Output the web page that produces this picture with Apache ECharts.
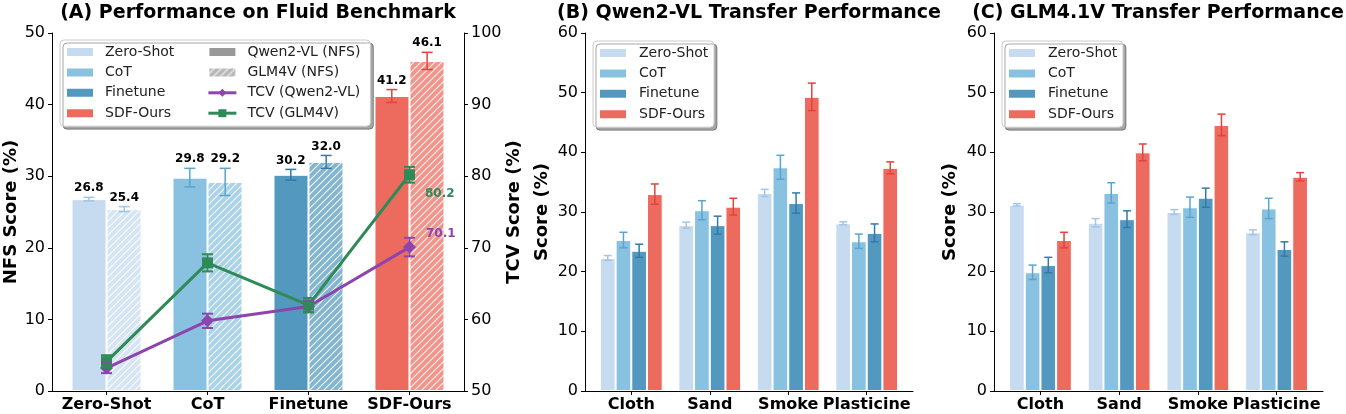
<!DOCTYPE html>
<html>
<head>
<meta charset="utf-8">
<script src="https://cdn.jsdelivr.net/npm/echarts@6/dist/echarts.min.js"></script>
<style>
  html, body { margin: 0; padding: 0; background: #fff; }
  #chart { width: 1346px; height: 414px; }
</style>
</head>
<body>
<div id="chart"></div>
<script>
// ---- data ----
const methods = ['Zero-Shot', 'CoT', 'Finetune', 'SDF-Ours'];
const materials = ['Cloth', 'Sand', 'Smoke', 'Plasticine'];

// panel A: NFS bars (left axis) and TCV lines (right axis)
const nfsQwen = [26.8, 29.8, 30.2, 41.2];
const nfsQwenErr = [0.25, 1.3, 0.75, 0.9];
const nfsGlm = [25.4, 29.2, 32.0, 46.1];
const nfsGlmErr = [0.35, 1.9, 0.9, 1.2];
const tcvQwen = [53.2, 59.8, 61.8, 70.1];
const tcvQwenErr = [0.7, 1.0, 0.8, 1.3];
const tcvGlm = [54.1, 67.9, 62.0, 80.2];
const tcvGlmErr = [0.9, 1.2, 1.0, 1.1];

// panel B: Qwen2-VL transfer, rows = methods, cols = materials
const qwenScores = [
  [22.3, 27.8, 33.2, 28.1],
  [25.3, 30.3, 37.5, 25.1],
  [23.5, 27.8, 31.5, 26.5],
  [33.0, 30.9, 49.3, 37.4]
];
const qwenErrors = [
  [0.4, 0.5, 0.6, 0.25],
  [1.3, 1.6, 2.0, 1.2],
  [1.1, 1.5, 1.7, 1.5],
  [1.7, 1.4, 2.3, 1.0]
];

// panel C: GLM4.1V transfer
const glmScores = [
  [31.2, 28.2, 30.0, 26.6],
  [19.9, 33.2, 30.8, 30.6],
  [21.1, 28.8, 32.4, 23.8],
  [25.3, 40.0, 44.6, 35.9]
];
const glmErrors = [
  [0.2, 0.7, 0.4, 0.4],
  [1.2, 1.7, 1.7, 1.7],
  [1.3, 1.4, 1.6, 1.2],
  [1.3, 1.4, 1.8, 0.7]
];

// ---- styling ----
const FONT = 'DejaVu Sans';
const barColors = ['#c6dbef', '#89c2e0', '#5399bf', '#ec6b5e'];
const errColors = ['#a3c5e6', '#5aa4d0', '#2f7cab', '#e0443a'];
const PURPLE = '#8e44ad';
const GREEN = '#2e8b57';

// diagonal '///' hatch as a canvas pattern
function hatch(base, alpha) {
  const s = 7;
  const c = document.createElement('canvas');
  c.width = s; c.height = s;
  const ctx = c.getContext('2d');
  ctx.globalAlpha = alpha;
  ctx.fillStyle = base;
  ctx.fillRect(0, 0, s, s);
  ctx.globalAlpha = 1;
  ctx.strokeStyle = 'rgba(255,255,255,0.9)';
  ctx.lineWidth = 1.1;
  ctx.beginPath();
  ctx.moveTo(0, s); ctx.lineTo(s, 0);
  ctx.moveTo(-s, s); ctx.lineTo(s, -s);
  ctx.moveTo(0, 2 * s); ctx.lineTo(2 * s, 0);
  ctx.stroke();
  return { image: c, repeat: 'repeat' };
}

// error bars (and optional value label) drawn with a custom series
function errorBar(offset, colors, capWidth, lineWidth, withLabel) {
  return function (params, api) {
    const x = api.value(0) + offset;
    const v = api.value(1);
    const e = api.value(2);
    const hi = api.coord([x, v + e]);
    const lo = api.coord([x, v - e]);
    const col = Array.isArray(colors) ? colors[params.dataIndex] : colors;
    const h = capWidth / 2;
    const st = () => ({ stroke: col, lineWidth: lineWidth });
    const children = [
      { type: 'line', shape: { x1: hi[0], y1: hi[1], x2: lo[0], y2: lo[1] }, style: st() },
      { type: 'line', shape: { x1: hi[0] - h, y1: hi[1], x2: hi[0] + h, y2: hi[1] }, style: st() },
      { type: 'line', shape: { x1: lo[0] - h, y1: lo[1], x2: lo[0] + h, y2: lo[1] }, style: st() }
    ];
    if (withLabel) {
      children.push({
        type: 'text', x: hi[0], y: hi[1] - 3,
        style: { text: v.toFixed(1), align: 'center', verticalAlign: 'bottom',
                 font: 'bold 12px "DejaVu Sans"', fill: '#000' }
      });
    }
    return { type: 'group', children: children };
  };
}

const axisLineStyle = { show: true, onZero: false, lineStyle: { color: '#000', width: 1 } };
const tickStyle = { show: true, length: 4, lineStyle: { color: '#000', width: 1 } };

function xAxisFor(gridIndex, cats, min, max) {
  return {
    type: 'value', gridIndex: gridIndex, min: min, max: max,
    axisLine: axisLineStyle,
    axisTick: Object.assign({ customValues: [0, 1, 2, 3] }, tickStyle),
    axisLabel: {
      customValues: [0, 1, 2, 3],
      formatter: v => cats[Math.round(v)],
      color: '#000', fontFamily: FONT, fontSize: 16, fontWeight: 'bold', margin: 6
    },
    splitLine: { show: false }
  };
}

function yAxisFor(gridIndex, min, max, name, nameGap, position) {
  return {
    type: 'value', gridIndex: gridIndex, min: min, max: max, interval: 10,
    position: position || 'left',
    axisLine: axisLineStyle,
    axisTick: tickStyle,
    axisLabel: { color: '#000', fontFamily: FONT, fontSize: 16, margin: 7 },
    splitLine: { show: false },
    name: name, nameLocation: 'middle', nameGap: nameGap, nameRotate: 90,
    nameTextStyle: { color: '#000', fontFamily: FONT, fontSize: 18, fontWeight: 'bold' }
  };
}

const series = [];

// panel A bars
series.push({
  type: 'bar', name: 'Qwen2-VL (NFS)', xAxisIndex: 0, yAxisIndex: 0,
  barWidth: 35, barGap: '0%',
  itemStyle: { color: '#999999', borderColor: '#fff', borderWidth: 1 },
  data: nfsQwen.map((v, i) => ({ value: [i, v], itemStyle: { color: barColors[i] } }))
});
series.push({
  type: 'bar', name: 'GLM4V (NFS)', xAxisIndex: 0, yAxisIndex: 0,
  barWidth: 35, barGap: '0%',
  itemStyle: { color: hatch('#999999', 0.7), borderColor: '#fff', borderWidth: 1 },
  data: nfsGlm.map((v, i) => ({ value: [i, v], itemStyle: { color: hatch(barColors[i], 0.72) } }))
});
series.push({
  type: 'custom', name: 'errA1', xAxisIndex: 0, yAxisIndex: 0, z: 3,
  renderItem: errorBar(-0.175, errColors, 11, 1.5, true),
  data: nfsQwen.map((v, i) => [i, v, nfsQwenErr[i]])
});
series.push({
  type: 'custom', name: 'errA2', xAxisIndex: 0, yAxisIndex: 0, z: 3,
  renderItem: errorBar(0.175, errColors, 11, 1.5, true),
  data: nfsGlm.map((v, i) => [i, v, nfsGlmErr[i]])
});

// panel A lines
function endLabel(color, dy) {
  return {
    show: true, position: 'right', distance: 10, offset: [0, dy],
    formatter: p => p.value[1].toFixed(1),
    color: color, fontFamily: FONT, fontSize: 12, fontWeight: 'bold'
  };
}
series.push({
  type: 'line', name: 'TCV (Qwen2-VL)', xAxisIndex: 0, yAxisIndex: 1, z: 4,
  symbol: 'diamond', symbolSize: 13,
  itemStyle: { color: PURPLE }, lineStyle: { color: PURPLE, width: 3 },
  data: tcvQwen.map((v, i) => i === 3 ? { value: [i, v], label: endLabel(PURPLE, -13) } : [i, v])
});
series.push({
  type: 'line', name: 'TCV (GLM4V)', xAxisIndex: 0, yAxisIndex: 1, z: 4,
  symbol: 'rect', symbolSize: 11,
  itemStyle: { color: GREEN }, lineStyle: { color: GREEN, width: 3 },
  data: tcvGlm.map((v, i) => i === 3 ? { value: [i, v], label: endLabel(GREEN, 19) } : [i, v])
});
series.push({
  type: 'custom', name: 'errL1', xAxisIndex: 0, yAxisIndex: 1, z: 5,
  renderItem: errorBar(0, PURPLE, 11, 2, false),
  data: tcvQwen.map((v, i) => [i, v, tcvQwenErr[i]])
});
series.push({
  type: 'custom', name: 'errL2', xAxisIndex: 0, yAxisIndex: 1, z: 5,
  renderItem: errorBar(0, GREEN, 11, 2, false),
  data: tcvGlm.map((v, i) => [i, v, tcvGlmErr[i]])
});

// panels B and C
const offsets = [-0.3, -0.1, 0.1, 0.3];
[[qwenScores, qwenErrors, 1, 2], [glmScores, glmErrors, 2, 3]].forEach(([scores, errs, xi, yi]) => {
  methods.forEach((m, k) => {
    series.push({
      type: 'bar', name: m, xAxisIndex: xi, yAxisIndex: yi,
      barWidth: 15.7, barGap: '0%',
      itemStyle: { color: barColors[k], borderColor: '#fff', borderWidth: 1 },
      data: scores[k].map((v, i) => [i, v])
    });
  });
  methods.forEach((m, k) => {
    series.push({
      type: 'custom', name: 'err' + xi + k, xAxisIndex: xi, yAxisIndex: yi, z: 3,
      renderItem: errorBar(offsets[k], errColors[k], 8, 1.5, false),
      data: scores[k].map((v, i) => [i, v, errs[k][i]])
    });
  });
});

const legendBase = {
  orient: 'vertical', itemWidth: 28, itemHeight: 10, itemGap: 6.4,
  padding: [5, 5, 6, 5], selectedMode: false,
  backgroundColor: '#ffffff',
  borderColor: '#cccccc', borderWidth: 1, borderRadius: 4,
  shadowColor: 'rgba(0,0,0,0.35)', shadowBlur: 0, shadowOffsetX: 3, shadowOffsetY: 3
};
const colTwo = ['Qwen2-VL (NFS)', 'GLM4V (NFS)', 'TCV (Qwen2-VL)', 'TCV (GLM4V)'];
const richText = w => ({ width: w, padding: [0, 0, 0, 6], fontFamily: FONT, fontSize: 14, lineHeight: 16, color: '#222' });
const titleFont = 'bold 19px "DejaVu Sans"';

const option = {
  animation: false,
  backgroundColor: '#fff',
  grid: [
    { left: 52, top: 33, width: 412, height: 358 },
    { left: 585, top: 33, width: 328, height: 358 },
    { left: 994, top: 33, width: 329, height: 358 }
  ],
  xAxis: [
    xAxisFor(0, methods, -0.54, 3.54),
    xAxisFor(1, materials, -0.59, 3.59),
    xAxisFor(2, materials, -0.59, 3.59)
  ],
  yAxis: [
    yAxisFor(0, 0, 50, 'NFS Score (%)', 32),
    yAxisFor(0, 50, 100, 'TCV Score (%)', 40, 'right'),
    yAxisFor(1, 0, 60, 'Score (%)', 34),
    yAxisFor(2, 0, 60, 'Score (%)', 35)
  ],
  legend: [
    Object.assign({}, legendBase, {
      left: 60, top: 40, height: 82,
      lineStyle: { width: 3 },
      data: [
        { name: 'Zero-Shot', icon: 'rect', itemStyle: { color: barColors[0] } },
        { name: 'CoT', icon: 'rect', itemStyle: { color: barColors[1] } },
        { name: 'Finetune', icon: 'rect', itemStyle: { color: barColors[2] } },
        { name: 'SDF-Ours', icon: 'rect', itemStyle: { color: barColors[3] } },
        { name: 'Qwen2-VL (NFS)', icon: 'rect', itemStyle: { color: '#999999' } },
        { name: 'GLM4V (NFS)', icon: 'rect', itemStyle: { color: hatch('#999999', 0.7) } },
        { name: 'TCV (Qwen2-VL)' },
        { name: 'TCV (GLM4V)' }
      ],
      formatter: n => colTwo.indexOf(n) >= 0 ? '{b|' + n + '}' : '{a|' + n + '}',
      textStyle: { rich: { a: richText(96), b: richText(118) } }
    }),
    Object.assign({}, legendBase, {
      left: 593, top: 41,
      data: methods.map(n => ({ name: n, icon: 'rect' })),
      formatter: n => '{a|' + n + '}',
      textStyle: { rich: { a: Object.assign(richText(70), { padding: [0, 0, 0, 7] }) } }
    }),
    Object.assign({}, legendBase, {
      left: 1002, top: 41,
      data: methods.map(n => ({ name: n, icon: 'rect' })),
      formatter: n => '{a|' + n + '}',
      textStyle: { rich: { a: Object.assign(richText(70), { padding: [0, 0, 0, 7] }) } }
    })
  ],
  graphic: [
    { type: 'text', x: 258, y: 13, style: { text: '(A) Performance on Fluid Benchmark', align: 'center', verticalAlign: 'middle', font: titleFont, fill: '#000' } },
    { type: 'text', x: 749, y: 13, style: { text: '(B) Qwen2-VL Transfer Performance', align: 'center', verticalAlign: 'middle', font: titleFont, fill: '#000' } },
    { type: 'text', x: 1158, y: 13, style: { text: '(C) GLM4.1V Transfer Performance', align: 'center', verticalAlign: 'middle', font: titleFont, fill: '#000' } }
  ],
  series: series
};

const chart = echarts.init(document.getElementById('chart'));
chart.setOption(option);
</script>
</body>
</html>
